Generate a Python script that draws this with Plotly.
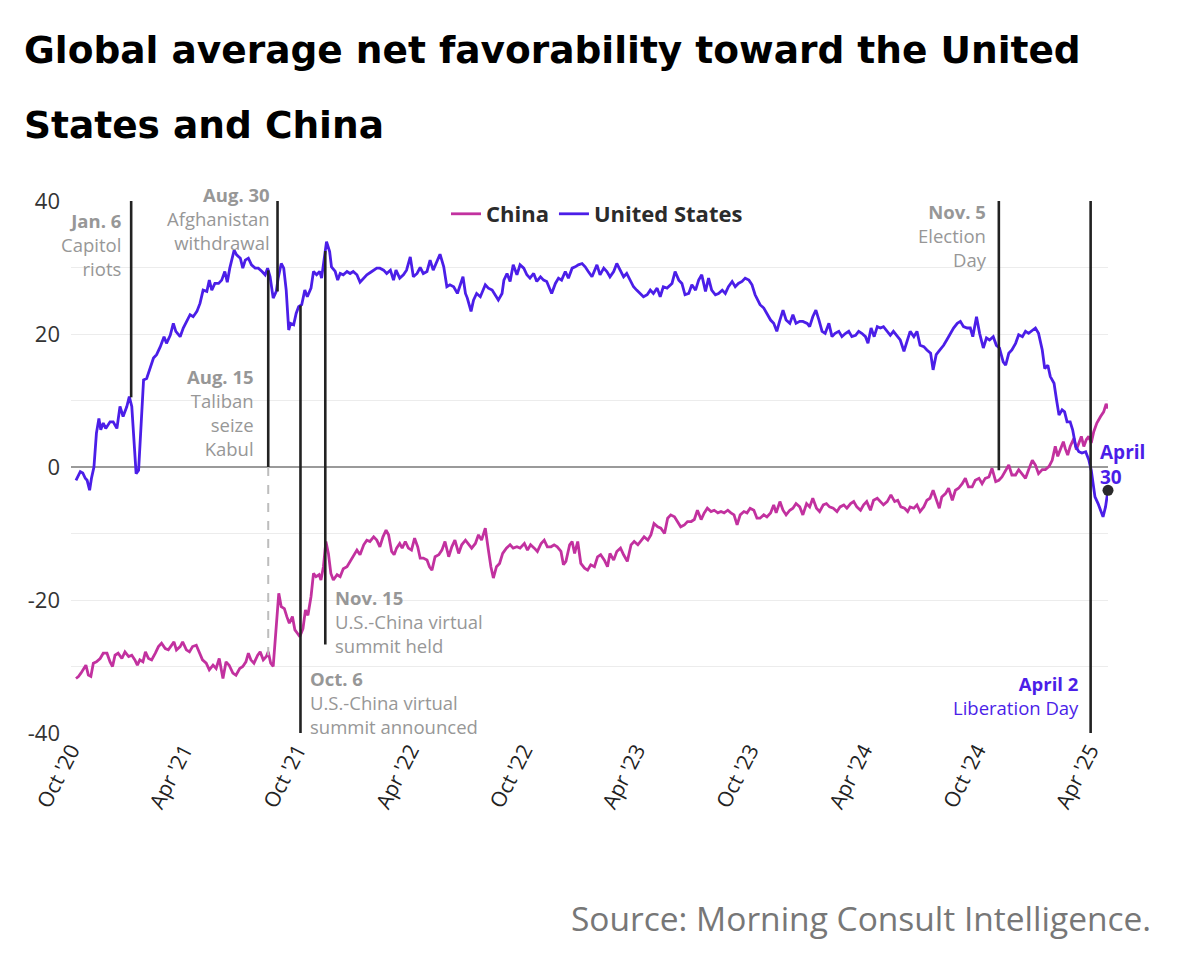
import numpy as np
import pandas as pd
import plotly.graph_objects as go

START = pd.Timestamp("2020-10-01")

# ---------------- data (days since 2020-10-01, net favorability) -------------
us_days = [
    8, 15, 19, 23, 26, 30, 33, 37, 41, 45,
    48, 52, 56, 63, 68, 74, 79, 84, 90, 94,
    98, 102, 105, 109, 112, 117, 122, 127, 133, 138,
    144, 150, 154, 160, 165, 169, 176, 181, 187, 192,
    197, 203, 208, 213, 219, 223, 227, 232, 238, 243,
    248, 252, 256, 263, 267, 273, 277, 281, 286, 291,
    297, 302, 308, 313, 317, 321, 326, 331, 334, 339,
    343, 347, 351, 354, 359, 363, 367, 372, 377, 381,
    387, 391, 396, 401, 404, 408, 412, 417, 420, 426,
    430, 434, 439, 445, 450, 455, 461, 466, 472, 477,
    485, 493,
    498, 504, 509, 515, 520, 524, 530, 536, 541, 547,
    552, 558, 563, 568, 574, 579, 584, 590, 595, 601,
    606, 611, 617, 623, 627, 632, 636, 639, 645, 649,
    654, 660, 668, 673, 679, 684, 689, 695, 698, 703,
    708, 713, 719, 724, 730, 735, 740, 746, 751, 757,
    762, 767, 773, 775, 781, 786, 791, 797, 802, 808,
    813, 818, 824, 829, 834, 840, 848, 853, 859, 864,
    869, 875, 880, 886, 891, 896, 902, 907, 912, 918,
    923, 929, 934, 939, 945, 950, 955, 961, 969, 974,
    980, 985, 990, 996, 1001, 1007, 1012, 1017, 1023, 1028,
    1033, 1039, 1044, 1050, 1055, 1060, 1066, 1071, 1076, 1082,
    1087, 1093, 1098, 1103,
    1111, 1117, 1122, 1128, 1133, 1138, 1143, 1148, 1153, 1159,
    1164, 1169, 1175, 1180, 1187, 1191, 1196, 1201, 1206, 1211,
    1216, 1222, 1227, 1232, 1238, 1243, 1249, 1254, 1259, 1265,
    1270, 1275, 1281, 1285, 1290, 1295, 1300, 1305, 1310, 1316,
    1321, 1326, 1332, 1337, 1343, 1348, 1353, 1359, 1364, 1369,
    1375, 1380, 1386, 1390, 1395, 1401, 1407, 1412, 1418, 1423,
    1429, 1434, 1439, 1445, 1450, 1454, 1460, 1465, 1471, 1476,
    1481, 1487, 1492, 1497, 1503, 1507, 1512, 1517, 1523, 1528,
    1534, 1539, 1544, 1550, 1555, 1560, 1566, 1570, 1575, 1579,
    1585, 1589, 1593, 1598, 1602, 1606, 1611, 1615, 1620, 1625,
    1630, 1636, 1641, 1645, 1651, 1656, 1660, 1664, 1668, 1672,
]
us_vals = [
    -2.0, -0.7, -0.9, -1.7, -2.0, -3.5, -1.7, 0.0, 5.1, 7.3,
    5.6, 6.6, 5.8, 6.8, 6.8, 5.8, 9.1, 7.6, 9.1, 10.6,
    9.1, 3.0, -1.0, -0.5, 5.1, 13.1, 13.3, 14.6, 16.4, 16.9,
    18.1, 19.6, 18.6, 19.8, 21.6, 20.4, 19.6, 20.9, 22.1, 22.9,
    22.6, 23.4, 24.6, 26.6, 26.4, 28.1, 26.6, 27.6, 27.6, 28.1,
    29.4, 27.8, 29.9, 32.6, 31.9, 31.4, 29.9, 31.1, 31.4, 30.4,
    29.9, 29.9, 29.4, 28.9, 29.9, 28.6, 25.4, 26.4, 28.4, 30.6,
    29.9, 26.6, 20.6, 21.6, 21.4, 23.1, 24.1, 24.4, 26.6, 25.6,
    26.9, 29.4, 28.9, 29.4, 28.4, 31.1, 33.9, 32.4, 30.1, 29.4,
    28.1, 29.1, 28.9, 29.4, 29.1, 29.4, 28.9, 27.8, 28.4, 28.9,
    29.4, 29.9,
    29.9, 29.6, 29.1, 29.6, 28.1, 29.6, 28.4, 28.9, 29.6, 31.6,
    28.6, 29.1, 30.0, 29.1, 29.4, 31.1, 29.6, 30.9, 32.0, 30.1,
    27.1, 27.4, 27.1, 26.1, 27.1, 28.6, 26.1, 25.4, 23.4, 25.1,
    26.1, 25.6, 27.4, 26.9, 26.6, 25.9, 25.1, 26.1, 28.1, 29.1,
    27.9, 30.4, 28.9, 30.4, 29.9, 28.9, 28.4, 29.1, 27.9, 28.6,
    28.1, 27.9, 26.6, 26.1, 27.6, 28.4, 28.1, 29.4, 28.4, 29.9,
    30.1, 30.4, 30.6, 30.1, 29.4, 28.6, 30.4, 28.9, 29.9, 29.4,
    28.6, 29.4, 30.6, 29.6, 28.6, 29.1, 28.1, 27.1, 26.6, 26.1,
    25.6, 25.9, 26.6, 26.1, 26.9, 25.6, 27.1, 26.9, 27.6, 29.4,
    28.1, 27.6, 25.9, 26.1, 27.4, 26.6, 28.1, 28.9, 26.4, 28.4,
    26.6, 25.9, 26.1, 26.6, 26.1, 27.1, 27.9, 27.1, 27.6, 27.9,
    28.4, 28.1, 27.4, 25.9,
    24.4, 23.9, 23.1, 22.1, 21.6, 20.4, 22.1, 23.6, 22.1, 21.6,
    22.9, 21.6, 21.9, 21.9, 21.6, 21.1, 22.6, 23.6, 22.1, 20.4,
    20.1, 21.6, 19.6, 20.1, 20.4, 19.6, 20.1, 20.4, 19.6, 19.8,
    20.4, 20.1, 19.6, 18.6, 20.9, 19.6, 21.1, 20.9, 21.1, 20.4,
    19.8, 20.4, 19.6, 19.1, 17.4, 18.9, 20.4, 19.6, 20.4, 18.3,
    18.1, 17.6, 17.1, 14.6, 16.9, 17.6, 18.3, 19.1, 20.1, 20.9,
    21.6, 21.9, 21.1, 20.9, 20.9, 19.6, 22.6, 20.1, 17.9, 19.4,
    19.1, 19.6, 18.3, 17.9, 15.8, 15.3, 17.1, 17.6, 18.6, 19.9,
    19.6, 20.4, 20.1, 20.6, 20.9, 20.1, 17.6, 14.8, 15.3, 13.6,
    12.6, 10.1, 7.8, 8.6, 8.3, 6.8, 6.8, 5.6, 3.1, 2.3,
    2.1, 2.3, 1.1, -0.5, -4.5, -5.5, -6.5, -7.5, -6.0, -3.5,
]

china_days = [
    8, 12, 16, 20, 24, 28, 32, 36, 41, 47,
    52, 58, 63, 67, 71, 76, 82, 87, 93, 98,
    103, 107, 111, 116, 120, 125, 130, 136, 141, 146,
    152, 157, 162, 166, 170, 176, 180, 186, 191, 196,
    202, 207, 212, 218, 223, 229, 234, 239, 245, 250,
    255, 261, 266, 272, 277, 282, 286, 290, 295, 301,
    305, 310, 315, 318, 322, 326, 331, 335, 339, 344,
    348, 352, 357, 361, 365, 369, 374, 378, 382, 387,
    391, 395, 400, 403, 407, 411, 415, 419, 423, 429,
    434, 439, 445, 450, 455, 461, 466, 472, 477, 482,
    488, 493,
    498, 503, 508, 512, 517, 521, 525, 530, 534, 539,
    544, 549, 554, 559, 563, 568, 574, 578, 582, 587,
    593, 598, 603, 609, 614, 619, 625, 630, 636, 641,
    646, 652, 657, 662, 668, 673, 677, 681, 686, 691,
    696, 702, 708, 713, 719, 724, 731, 736, 741, 747,
    752, 758, 763, 768, 774, 779, 784, 790, 794, 798,
    804, 808, 812, 817, 822, 828, 833, 838, 844, 849,
    854, 860, 865, 869, 875, 880, 886, 891, 897, 903,
    908, 914, 919, 924, 930, 935, 940, 946, 951, 957,
    962, 967, 973, 978, 983, 989, 994, 1000, 1005, 1010,
    1016, 1021, 1026, 1032, 1037, 1043, 1048, 1053, 1059, 1064,
    1069, 1074, 1079, 1085, 1090, 1095, 1101, 1106,
    1111, 1117, 1122, 1128, 1133, 1137, 1143, 1148, 1153, 1159,
    1164, 1169, 1175, 1180, 1186, 1191, 1196, 1202, 1207, 1213,
    1218, 1223, 1229, 1235, 1240, 1246, 1251, 1257, 1262, 1267,
    1273, 1278, 1283, 1289, 1294, 1300, 1305, 1310, 1316, 1322,
    1328, 1333, 1338, 1344, 1349, 1353, 1359, 1364, 1369, 1375,
    1380, 1385, 1390, 1395, 1400, 1404, 1410, 1415, 1421, 1426,
    1431, 1437, 1442, 1447, 1453, 1458, 1464, 1469, 1474, 1480,
    1485, 1491, 1496, 1501, 1507, 1512, 1517, 1523, 1528, 1534,
    1539, 1544, 1550, 1555, 1560, 1566, 1571, 1577, 1582, 1587,
    1591, 1595, 1600, 1603, 1607, 1611, 1617, 1621, 1625, 1629,
    1633, 1637, 1641, 1645, 1649, 1654, 1660, 1665, 1669, 1672,
]
china_vals = [
    -31.8, -31.5, -31.0, -30.3, -29.8, -31.3, -31.5, -29.5, -29.3, -28.8,
    -28.0, -28.0, -29.3, -30.0, -28.3, -28.0, -28.8, -27.8, -28.5, -28.3,
    -29.0, -29.8, -29.0, -29.3, -27.8, -28.8, -29.0, -28.0, -27.0, -26.5,
    -27.3, -27.5, -26.8, -26.3, -27.5, -27.0, -26.3, -27.5, -27.8, -27.0,
    -26.8, -27.8, -29.0, -29.5, -30.5, -29.8, -30.3, -28.8, -31.8, -29.3,
    -29.8, -31.0, -31.3, -30.3, -30.0, -29.3, -28.0, -29.0, -29.5, -28.3,
    -27.8, -29.0, -28.5, -27.8, -29.5, -30.0, -23.0, -19.0, -21.0, -21.3,
    -22.5, -23.5, -22.5, -24.5, -25.0, -25.5, -24.3, -21.5, -22.3, -19.5,
    -16.0, -16.5, -16.2, -17.0, -15.0, -11.2, -13.0, -16.0, -17.0, -16.2,
    -16.5, -15.3, -15.0, -14.2, -13.5, -12.5, -13.2, -11.7, -11.0, -11.2,
    -10.5, -11.0,
    -12.0, -10.5, -9.5, -10.2, -12.7, -13.2, -12.2, -11.5, -12.2, -11.2,
    -12.2, -12.5, -10.7, -12.0, -13.7, -13.7, -14.0, -15.0, -15.5, -13.5,
    -13.2, -12.5, -11.2, -13.5, -12.0, -11.0, -13.0, -11.7, -11.0, -11.7,
    -12.2, -11.5, -10.2, -11.0, -9.2, -12.5, -15.0, -16.7, -15.0, -14.5,
    -13.0, -12.2, -11.7, -12.2, -12.0, -12.2, -11.5, -12.5, -11.7, -12.2,
    -12.7, -11.5, -11.0, -12.0, -12.0, -11.7, -12.0, -12.7, -14.7, -14.2,
    -11.7, -11.2, -13.0, -11.2, -14.5, -15.2, -15.5, -14.7, -15.0, -13.5,
    -13.2, -14.0, -15.0, -13.0, -14.0, -12.7, -12.2, -13.2, -14.2, -11.7,
    -11.2, -11.7, -11.0, -10.5, -11.0, -10.2, -8.5, -9.0, -9.2, -10.0,
    -7.7, -7.2, -7.5, -8.2, -9.0, -8.7, -8.2, -8.2, -7.9, -6.5,
    -7.9, -6.9, -6.2, -6.7, -6.5, -6.9, -6.7, -6.9, -6.5, -6.9,
    -7.2, -8.7, -7.2, -6.7, -6.9, -6.2, -6.5, -7.7,
    -7.7, -7.2, -7.5, -6.9, -5.7, -6.9, -5.2, -6.5, -7.2, -6.5,
    -6.2, -5.5, -6.0, -7.2, -5.5, -6.0, -4.7, -6.2, -6.7, -5.7,
    -5.5, -6.0, -6.2, -6.7, -6.0, -5.7, -6.2, -5.5, -5.2, -6.0,
    -6.5, -5.7, -5.2, -6.5, -5.0, -4.7, -5.2, -5.7, -5.2, -4.2,
    -5.2, -5.0, -6.0, -6.2, -6.7, -6.0, -6.2, -5.7, -6.7, -6.0,
    -5.0, -4.7, -3.5, -5.0, -6.2, -4.5, -4.0, -3.2, -5.0, -3.5,
    -3.2, -2.5, -1.7, -3.0, -3.0, -2.0, -1.7, -2.5, -1.7, -1.5,
    -0.2, -2.2, -2.0, -1.5, -0.4, 0.3, -1.2, -1.2, -0.4, -1.2,
    -1.7, -0.4, 1.0, 0.3, -1.0, -0.4, -0.4, 0.1, 1.0, 3.1,
    1.6, 2.6, 3.8, 2.8, 1.8, 3.1, 4.3, 2.6, 3.6, 4.6,
    3.1, 4.1, 4.6, 3.6, 5.3, 6.6, 7.6, 8.3, 9.5, 8.8,
]

# events: date, bold label, description lines
event_dates = ["2021-01-06", "2021-08-15", "2021-08-30", "2021-10-06",
               "2021-11-15", "2024-11-05", "2025-04-02"]
event_titles = ["Jan. 6", "Aug. 15", "Aug. 30", "Oct. 6", "Nov. 15",
                "Nov. 5", "April 2"]
event_texts = [["Capitol", "riots"], ["Taliban", "seize", "Kabul"],
               ["Afghanistan", "withdrawal"],
               ["U.S.-China virtual", "summit announced"],
               ["U.S.-China virtual", "summit held"],
               ["Election", "Day"], ["Liberation Day"]]

# ---------------- layout helpers -------------
W, H = 1179, 968
L, R, T, B = 71, 71, 201, 235
PW, PH = W - L - R, H - T - B


def px(x):
    return (x - L) / PW


def py(y):
    return (H - B - y) / PH


US_C = "#4B1EE8"
CN_C = "#C2319F"
GRAY = "#979797"
DARK = "#222222"
FONT = "Open Sans"
TFONT = "DejaVu Sans"

us_x = START + pd.to_timedelta(us_days, unit="D")
cn_x = START + pd.to_timedelta(china_days, unit="D")

fig = go.Figure()
fig.add_trace(go.Scatter(x=cn_x, y=china_vals, mode="lines", name="China",
                         line=dict(color=CN_C, width=2.8)))
fig.add_trace(go.Scatter(x=us_x, y=us_vals, mode="lines", name="United States",
                         line=dict(color=US_C, width=2.8)))
fig.add_trace(go.Scatter(x=[us_x[-1]], y=[us_vals[-1]], mode="markers",
                         showlegend=False, cliponaxis=False,
                         marker=dict(color="#2a2a2a", size=11)))


def us_at(d):
    return float(np.interp((pd.Timestamp(d) - START).days, us_days, us_vals))


def cn_at(d):
    return float(np.interp((pd.Timestamp(d) - START).days, china_days, china_vals))


# vertical event lines (from, to) in data units
ev = dict(zip(event_titles, event_dates))
segments = [
    (ev["Jan. 6"], 40, us_at(ev["Jan. 6"]) + 1.0),
    (ev["Aug. 15"], us_at(ev["Aug. 15"]), 0),
    (ev["Aug. 30"], 40, 26.4),
    (ev["Oct. 6"], us_at(ev["Oct. 6"]), -40),
    (ev["Nov. 15"], us_at(ev["Nov. 15"]), -26.7),
    (ev["Nov. 5"], 40, -0.5),
    (ev["April 2"], 40, -40),
]
shapes = []
for d, y0, y1 in segments:
    shapes.append(dict(type="line", xref="x", yref="y", x0=d, x1=d, y0=y0, y1=y1,
                       line=dict(color=DARK, width=2.6), layer="above"))
shapes.append(dict(type="line", xref="x", yref="y", x0=ev["Aug. 15"], x1=ev["Aug. 15"],
                   y0=0, y1=cn_at(ev["Aug. 15"]) - 0.5,
                   line=dict(color="#bdbdbd", width=2, dash="dash"), layer="above"))

annotations = []
ANN_SIZE = 18.5
LINE_H = 1.3 * ANN_SIZE
# label placement: (first-line centre in px, xanchor, xshift)
placements = {
    "Jan. 6": (220, "right", -8),
    "Aug. 15": (376, "right", -12),
    "Aug. 30": (194, "right", -6),
    "Oct. 6": (678, "left", 8),
    "Nov. 15": (597, "left", 8),
    "Nov. 5": (211, "right", -10),
    "April 2": (683, "right", -10),
}
for title, d, lines in zip(event_titles, event_dates, event_texts):
    yc, xa, xs = placements[title]
    col = US_C if title == "April 2" else GRAY
    block = [f"<b>{title}</b>"] + lines
    centre = yc + (len(block) - 1) * LINE_H / 2
    annotations.append(dict(
        x=d, y=py(centre), xref="x", yref="paper", xanchor=xa,
        yanchor="middle", xshift=xs, showarrow=False, text="<br>".join(block),
        align=xa, font=dict(family=FONT, size=ANN_SIZE, color=col)))

annotations.append(dict(x=us_x[-1], y=py(452 + LINE_H / 2), xref="x", yref="paper",
                        xanchor="left", yanchor="middle", xshift=-10,
                        showarrow=False, text="<b>April<br>30</b>", align="left",
                        font=dict(family=FONT, size=ANN_SIZE + 0.5, color=US_C)))

# title lines and source
annotations.append(dict(x=px(22), y=py(50), xref="paper", yref="paper",
                        xanchor="left", yanchor="middle", showarrow=False,
                        text="<b>Global average net favorability toward the United</b>",
                        font=dict(family=TFONT, size=37.5, color="#000000")))
annotations.append(dict(x=px(22), y=py(125), xref="paper", yref="paper",
                        xanchor="left", yanchor="middle", showarrow=False,
                        text="<b>States and China</b>",
                        font=dict(family=TFONT, size=37.5, color="#000000")))
annotations.append(dict(x=px(1153), y=py(918), xref="paper", yref="paper",
                        xanchor="right", yanchor="middle", showarrow=False,
                        text="Source: Morning Consult Intelligence.",
                        font=dict(family=FONT, size=33.5, color="#777777")))

fig.update_layout(
    width=W, height=H,
    margin=dict(l=L, r=R, t=T, b=B, autoexpand=False),
    paper_bgcolor="white", plot_bgcolor="white",
    font=dict(family=FONT, color="#333333"),
    showlegend=True,
    legend=dict(orientation="h", x=px(446), y=py(193), xanchor="left", yanchor="top",
                font=dict(family=FONT, size=22, color="#2b2b2b", weight="bold"),
                bgcolor="rgba(0,0,0,0)", tracegroupgap=0),
    shapes=shapes,
    annotations=annotations,
)
fig.update_xaxes(
    range=[START, START + pd.Timedelta(days=1672)],
    tickmode="linear", tick0="2020-10-01", dtick="M6", tickformat="%b '%y",
    tickangle=-63, tickfont=dict(family=FONT, size=21, color="#222222"),
    showgrid=False, showline=False, zeroline=False, ticks="",
)
fig.update_yaxes(
    range=[-40, 40],
    tickvals=[-40, -30, -20, -10, 0, 10, 20, 30, 40],
    ticktext=["-40", "", "-20", "", "0", "", "20", "", "40"],
    tickfont=dict(family=FONT, size=22, color="#333333"),
    showgrid=True, gridcolor="#ececec", gridwidth=1,
    zeroline=True, zerolinecolor="#9a9a9a", zerolinewidth=2,
    showline=False, ticks="", ticklabelstandoff=10,
)

fig.write_html("out.html")
